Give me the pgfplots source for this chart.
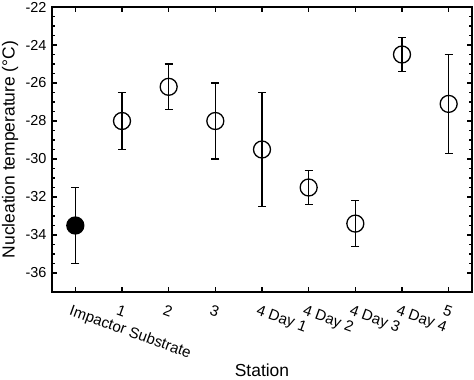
\documentclass[border=0pt]{standalone}
\usepackage{pgfplots}
\pgfplotsset{compat=1.18}
\usepackage{pgfplotstable}
\usepackage{fontspec}
\setmainfont{Liberation Sans}
\pgfplotstableread{
x y ep em
1 -28.0 1.5 1.5
2 -26.2 1.2 1.2
3 -28.0 2.0 2.0
4 -29.5 3.0 3.0
5 -31.5 0.9 0.9
6 -33.4 1.2 1.2
7 -24.5 0.9 0.9
8 -27.1 2.6 2.6
}\open
\pgfplotstableread{
x y ep em
0 -33.5 2.0 2.0
}\filled
\begin{document}
\begin{tikzpicture}
\begin{axis}[
  name=main,
  scale only axis,
  width=420bp, height=285bp,
  xmin=-0.5, xmax=8.5, ymin=-37, ymax=-22,
  xtick={0,...,8},
  xticklabels={Impactor Substrate,1,2,3,4 Day 1,4 Day 2,4 Day 3,4 Day 4,5},
  xticklabel style={xshift=-3bp, yshift=-12bp, rotate=-20, anchor=north west, inner sep=0pt, font=\fontsize{15.2}{17}\selectfont},
  ytick={-36,-34,...,-22},
  minor y tick num=3,
  yticklabel style={xshift=-2bp, font=\fontsize{14.5}{16}\selectfont},
  /pgf/number format/assume math mode=true,
  tick align=inside,
  major tick length=5.5bp, minor tick length=3bp,
  every tick/.style={black, line width=1.1pt},
  axis line style={line width=1.6pt},
  xlabel={Station}, ylabel={Nucleation temperature (°C)},
  label style={font=\fontsize{17.5}{19}\selectfont},
  xlabel style={at={(axis description cs:0.5,0)}, anchor=north, yshift=-71bp, inner sep=1bp},
  ylabel style={at={(axis description cs:0,0.5)}, anchor=center, yshift=42bp, inner sep=1bp},
  error bars/error bar style={line width=1.4pt, solid, black},
  error bars/error mark options={rotate=90, mark size=4bp, line width=1.4pt, black},
]
\addplot[black, line width=1.3pt, only marks, mark=o, mark size=8.5bp,
  mark options={fill=white, line width=1.3pt},
  error bars/.cd, y dir=both, y explicit]
  table[x=x, y=y, y error plus=ep, y error minus=em] {\open};
\addplot[black, line width=1.3pt, only marks, mark=*, mark size=8.5bp,
  error bars/.cd, y dir=both, y explicit]
  table[x=x, y=y, y error plus=ep, y error minus=em] {\filled};
\end{axis}
\pgfresetboundingbox
\path ([shift={(-52bp,-88bp)}]main.south west) rectangle ([shift={(2bp,7bp)}]main.north east);
\end{tikzpicture}
\end{document}
